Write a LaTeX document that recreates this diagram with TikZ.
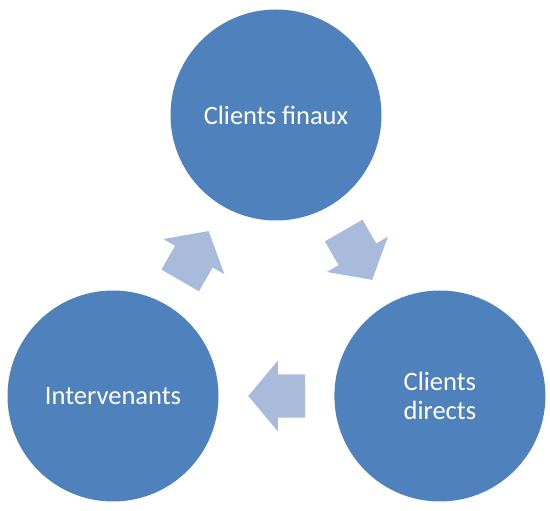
\documentclass[tikz,border=0pt]{standalone}
\usepackage{fontspec}
\setmainfont{Carlito}
\usetikzlibrary{shapes.arrows, positioning, calc}
\definecolor{bleu}{RGB}{79,129,189}
\definecolor{bleuclair}{RGB}{168,187,219}

\begin{document}
\begin{tikzpicture}[x=1pt, y=1pt,
    cercle/.style={circle, fill=bleu, minimum size=211pt, inner sep=0pt,
        text=white, align=center, font=\fontsize{26.5}{29}\selectfont},
    fleche/.style={single arrow, fill=bleuclair, minimum height=57pt,
        inner xsep=0pt, inner ysep=21.5pt, single arrow head extend=13.5pt,
        single arrow tip angle=100, anchor=tip}]
    \useasboundingbox (0,0) rectangle (550,511);
    \node[cercle] (I) at (113,115) {Intervenants};
    \node[cercle, right=115.5pt of I] (D) {Clients\\directs};
    \node[cercle] (F) at (276,396) {Clients finaux};
    % pointe a mi-chemin + 28.5pt
    \node[fleche, rotate=60] (IF) at ($(I)!0.5!(F)!28.5pt!(F)$) {};
    \node[fleche, rotate=-60] (FD) at ($(F)!0.5!(D)!28.5pt!(D)$) {};
    \node[fleche, rotate=180] (DI) at ($(D)!0.5!(I)!28.5pt!(I)$) {};
\end{tikzpicture}
\end{document}
